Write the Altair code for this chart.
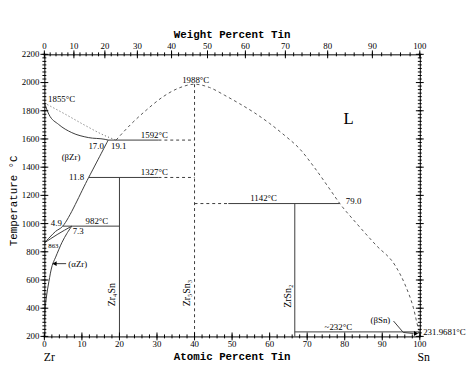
import altair as alt
import pandas as pd

W, H = 382, 287
LINE = "#3a3a3a"
SERIF = "Liberation Serif"
MONO = "Liberation Mono"

# ---- phase boundaries (atomic % Sn, deg C) ----
solidus_x = [0, 1.2, 3.8, 7.3, 11.7, 16.2, 17.0]
solidus_y = [1855, 1775, 1703, 1645, 1610, 1597, 1592]
liq_dot_x = [0, 5.6, 10.8, 16.0, 19.1]
liq_dot_y = [1855, 1775, 1697, 1625, 1592]
liq_dash_x = [19.1, 23, 27.3, 31.7, 36, 40, 44, 48, 52, 56, 60, 64, 68, 72, 76, 78.7, 83, 88.3, 93.5, 96.1, 98.3, 99.6, 100]
liq_dash_y = [1592, 1703, 1808, 1901, 1963, 1988, 1965, 1910, 1850, 1785, 1710, 1625, 1530, 1395, 1245, 1142, 1006, 848, 700, 565, 402, 260, 232]
beta_x = [17.0, 11.8, 4.9, 3.0, 1.5, 0]
beta_y = [1592, 1327, 982, 945, 905, 863]
ab_x = [0, 3.4, 7.3]
ab_y = [863, 922, 982]
alpha_x = [7.3, 6.0, 4.7, 3.0, 2.1, 1.2, 0.5, 0.15, 0]
alpha_y = [982, 930, 867, 762, 704, 588, 472, 380, 300]
bsn_ptr_x = [93.0, 95.6, 98.3]
bsn_ptr_y = [309, 228, 221]

# straight segments x1, y1, x2, y2
solid_x1 = [17.0, 11.8, 4.9, 49, 66.7, 20, 66.7, 2.9]
solid_y1 = [1592, 1327, 982, 1142, 232, 1327, 1142, 716]
solid_x2 = [30.4, 30.4, 20, 78.7, 100, 20, 66.7, 5.8]
solid_y2 = [1592, 1327, 982, 1142, 232, 200, 200, 716]
dash_x1 = [30.4, 30.4, 40, 40]
dash_y1 = [1592, 1327, 1142, 1988]
dash_x2 = [40, 40, 49, 40]
dash_y2 = [1592, 1327, 1142, 200]

# ---- annotations ----
labc_text = ["1988°C", "17.0", "19.1", "1592°C", "(βZr)", "1327°C", "4.9", "982°C", "7.3", "(αZr)", "1142°C", "~232°C", "(βSn)"]
labc_x = [40.3, 13.8, 19.8, 29.3, 7.1, 29.3, 3.2, 14.0, 9.0, 8.9, 58.4, 78.3, 89.5]
labc_y = [2017, 1547, 1547, 1629, 1471, 1362, 1003, 1018, 948, 716, 1180, 263, 313]
labl_text = ["1855°C", "79.0", "231.9681°C"]
labl_x = [1.0, 80.3, 100.9]
labl_y = [1880, 1157, 228]
labr_text = ["11.8"]
labr_x = [10.6]
labr_y = [1327]
small_text = ["863"]
small_x = [2.4]
small_y = [843]
comp_text = ["Zr₄Sn", "Zr₅Sn₃", "ZrSn₂"]
comp_x = [18.0, 38.0, 64.9]
comp_y = [496, 507, 485]

# ---- axes ----
at_major = list(range(0, 101, 10))
at_minor = list(range(0, 101, 2))
t_major = list(range(200, 2201, 200))
t_minor = list(range(200, 2201, 25))
wt_major = list(range(0, 101, 10))
wt_minor = list(range(0, 101, 2))
M_SN, M_ZR = 118.71, 91.224


def wt_to_at(w):
    a = w / M_SN
    b = (100 - w) / M_ZR
    return 100 * a / (a + b)


X = alt.X("x:Q", scale=alt.Scale(domain=[0, 100], nice=False, zero=False), axis=None)
Y = alt.Y("y:Q", scale=alt.Scale(domain=[200, 2200], nice=False, zero=False), axis=None)


def curve(xs, ys, dash=None, color=LINE, interp="linear"):
    df = pd.DataFrame({"x": xs, "y": ys, "o": range(len(xs))})
    kw = dict(color=color, strokeWidth=1, interpolate=interp)
    if dash:
        kw["strokeDash"] = dash
    return alt.Chart(df).mark_line(**kw).encode(x=X, y=Y, order="o:Q")


def segs(x1, y1, x2, y2, dash=None):
    df = pd.DataFrame({"x": x1, "y": y1, "x2": x2, "y2": y2})
    kw = dict(color=LINE, strokeWidth=1)
    if dash:
        kw["strokeDash"] = dash
    return alt.Chart(df).mark_rule(**kw).encode(x=X, y=Y, x2="x2:Q", y2="y2:Q")


def texts(t, xs, ys, align="center", size=9, angle=0, font=SERIF):
    df = pd.DataFrame({"x": xs, "y": ys, "t": t})
    kw = dict(align=align, baseline="middle", fontSize=size, font=font, color="black")
    if angle:
        kw["angle"] = angle
    return alt.Chart(df).mark_text(**kw).encode(x=X, y=Y, text="t:N")


layers = [
    curve(solidus_x, solidus_y, interp="monotone"),
    curve(liq_dot_x, liq_dot_y, dash=[1, 2.5], color="#555555", interp="monotone"),
    curve(liq_dash_x, liq_dash_y, dash=[3, 3], color="#555555", interp="monotone"),
    curve(beta_x, beta_y, interp="catmull-rom"),
    curve(ab_x, ab_y, interp="monotone"),
    curve(alpha_x, alpha_y, interp="catmull-rom"),
    curve(bsn_ptr_x, bsn_ptr_y),
    segs(solid_x1, solid_y1, solid_x2, solid_y2),
    segs(dash_x1, dash_y1, dash_x2, dash_y2, dash=[3, 3]),
    alt.Chart(pd.DataFrame({"x": [2.7], "y": [716]})).mark_point(shape="triangle-left", filled=True, size=25, color="black", opacity=1).encode(x=X, y=Y),
    alt.Chart(pd.DataFrame({"x": [99.0], "y": [221]})).mark_point(shape="triangle-right", filled=True, size=25, color="black", opacity=1).encode(x=X, y=Y),
    texts(labc_text, labc_x, labc_y),
    texts(labl_text, labl_x, labl_y, align="left"),
    texts(labr_text, labr_x, labr_y, align="right"),
    texts(small_text, small_x, small_y, size=7),
    texts(comp_text, comp_x, comp_y, angle=270, size=10),
    texts(["L"], [81], [1738], size=17),
]

# bottom axis
bx = pd.DataFrame({"x": at_major})
bm = pd.DataFrame({"x": at_minor})
layers += [
    alt.Chart(bx).mark_rule(color="black").encode(x=X, y=alt.value(H - 4), y2=alt.value(H + 4)),
    alt.Chart(bm).mark_rule(color="black").encode(x=X, y=alt.value(H - 2), y2=alt.value(H + 2)),
    alt.Chart(bx).mark_text(baseline="top", fontSize=9, font=SERIF, color="black").encode(
        x=X, y=alt.value(H + 4), text="x:Q"),
]
# top axis (weight percent)
tx = pd.DataFrame({"x": [wt_to_at(w) for w in wt_major], "lab": wt_major})
tm = pd.DataFrame({"x": [wt_to_at(w) for w in wt_minor]})
layers += [
    alt.Chart(tx).mark_rule(color="black").encode(x=X, y=alt.value(-4), y2=alt.value(4)),
    alt.Chart(tm).mark_rule(color="black").encode(x=X, y=alt.value(-2), y2=alt.value(2)),
    alt.Chart(tx).mark_text(baseline="bottom", fontSize=9, font=SERIF, color="black").encode(
        x=X, y=alt.value(-3), text="lab:Q"),
]
# left and right axes
ly = pd.DataFrame({"y": t_major})
lm = pd.DataFrame({"y": t_minor})
layers += [
    alt.Chart(ly).mark_rule(color="black").encode(y=Y, x=alt.value(-4), x2=alt.value(4)),
    alt.Chart(lm).mark_rule(color="black").encode(y=Y, x=alt.value(-2), x2=alt.value(2)),
    alt.Chart(ly).mark_rule(color="black").encode(y=Y, x=alt.value(W - 4), x2=alt.value(W + 4)),
    alt.Chart(lm).mark_rule(color="black").encode(y=Y, x=alt.value(W - 2), x2=alt.value(W + 2)),
    alt.Chart(ly).mark_text(align="right", baseline="middle", fontSize=9, font=SERIF, color="black").encode(
        y=Y, x=alt.value(-5), text="y:Q"),
]
# titles
one = pd.DataFrame({"a": [0]})
layers += [
    alt.Chart(one).mark_text(text="Weight Percent Tin", fontSize=11, font=MONO, fontWeight="bold", color="black").encode(
        x=alt.value(W / 2), y=alt.value(-20)),
    alt.Chart(one).mark_text(text="Atomic Percent Tin", fontSize=11, font=MONO, fontWeight="bold", color="black").encode(
        x=alt.value(W / 2), y=alt.value(H + 21)),
    alt.Chart(one).mark_text(text="Zr", fontSize=12, font=SERIF, color="black").encode(
        x=alt.value(5), y=alt.value(H + 21)),
    alt.Chart(one).mark_text(text="Sn", fontSize=12, font=SERIF, color="black").encode(
        x=alt.value(W + 4), y=alt.value(H + 21)),
    alt.Chart(one).mark_text(text="Temperature °C", fontSize=11, font=MONO, angle=270, baseline="middle", color="black").encode(
        x=alt.value(-31), y=alt.value(149)),
]

chart = alt.layer(*layers).properties(
    width=W, height=H,
    autosize=alt.AutoSizeParams(type="none"),
    padding={"left": 37, "top": 44, "right": 47, "bottom": 30},
    background="white",
).configure_view(stroke="black", strokeWidth=1)

chart.save("out.html", embed_options={"renderer": "svg", "actions": False})
